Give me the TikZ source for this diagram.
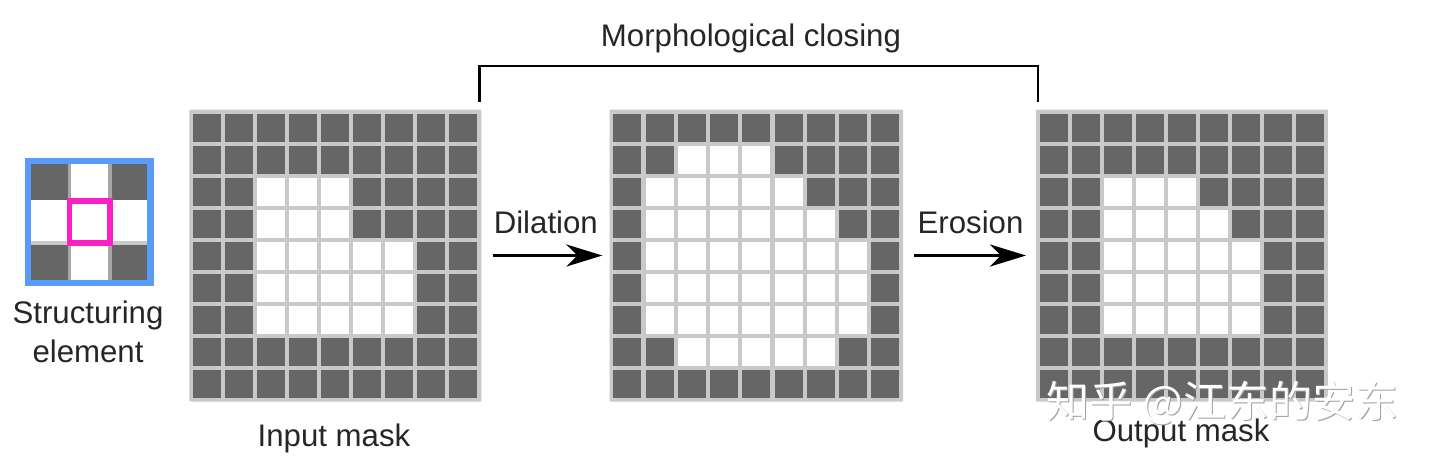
\documentclass[tikz,border=0pt]{standalone}
\usepackage{fontspec}
\setmainfont{Liberation Sans}
\newfontfamily\cjkfont{Noto Sans CJK SC}
\usetikzlibrary{arrows.meta}
\definecolor{gridline}{HTML}{C9C9C9}
\definecolor{darkcell}{HTML}{666666}
\definecolor{selblue}{HTML}{5B9BF8}
\definecolor{selpink}{HTML}{FC1FC4}
\definecolor{inkc}{HTML}{262626}
\tikzset{
  x=1pt,y=-1pt,
  label text/.style={font=\fontsize{31.2}{39}\selectfont,text=inkc,inner sep=0pt,anchor=base},
  grid back/.style={fill=gridline,inner sep=0pt,minimum height=292pt,rounded corners=1pt},
  flow arrow/.style={line width=3.4pt,black,-{Stealth[length=36pt,width=22pt,inset=11pt]},shorten <=11pt},
  bracket line/.style={line width=2.9pt,black},
  mark text/.style={font=\cjkfont\fontsize{43}{43}\selectfont,inner sep=0pt,anchor=center},
}
% #1 name, #2 centre x, #3 width, #4 x of first cell, #5 pitch, #6 runs of white cells row/from/to
\newcommand{\maskgrid}[6]{
  \node[grid back,minimum width=#3pt] (#1) at (#2,255.5) {};
  \foreach \r in {0,...,8}{\foreach \c in {0,...,8}{
    \fill[darkcell] ({#4+\c*#5},{113.5+\r*32.1}) rectangle +(28,28);
  }}
  \foreach \r/\a/\b in {#6}{\foreach \c in {\a,...,\b}{
    \fill[white] ({#4+\c*#5},{113.5+\r*32.1}) rectangle +(28,28);
  }}
}
\begin{document}
\begin{tikzpicture}
\useasboundingbox (0,0) rectangle (1434,464);
\fill[white] (0,0) rectangle (1434,464);

% structuring element
\fill[selblue] (25.3,158.3) rectangle (153.7,286);
\fill[white] (31.3,164) rectangle (147.3,280);
\fill[darkcell] (31.3,164) rectangle (67.5,200);
\fill[darkcell] (112,164) rectangle (147.3,200);
\fill[darkcell] (31.3,245) rectangle (67.5,280);
\fill[darkcell] (112,245) rectangle (147.3,280);
\fill[gray!70] (67.5,164) rectangle (71,198);
\fill[gray!70] (108,164) rectangle (112,198);
\fill[gray!70] (67.5,245) rectangle (71,280);
\fill[gray!70] (108,245) rectangle (112,280);
\fill[gridline] (31.3,241) rectangle (67.5,245);
\fill[gridline] (112,241) rectangle (147.3,245);
\draw[selpink,line width=5.6pt] (69.5,201.1) rectangle (109.9,242.9);
\node[label text,anchor=center,align=center] (selabel) at (88,332) {Structuring\\element};

% masks
\maskgrid{input}{335.3}{292}{193}{32}{2/2/4,3/2/4,4/2/6,5/2/6,6/2/6}
\maskgrid{middle}{756.3}{293.5}{613.3}{32.25}{1/2/4,2/1/5,3/1/6,4/1/7,5/1/7,6/1/7,7/2/6}
\maskgrid{output}{1181.8}{292}{1039.7}{32.04}{2/2/4,3/2/5,4/2/6,5/2/6,6/2/6}

% connectors
\draw[flow arrow,shorten >=7pt] (input.east) -- (middle.west);
\draw[flow arrow,shorten >=9.6pt] (middle.east) -- (output.west);
\coordinate (bl) at (479.3,102);
\coordinate (br) at (1038,102);
\coordinate (bt) at (751,66);
\draw[bracket line] (bl) |- (bt) -| (br);

% labels
\node[label text] (closing) at (751,46.5) {Morphological closing};
\node[label text] (dil) at (545.8,233) {Dilation};
\node[label text] (ero) at (970.5,233) {Erosion};
\node[label text] (inlabel) at (334,446) {Input mask};
\node[label text] (outlabel) at (1181,441.7) {Output mask};

% watermark
\node[mark text,text=gray!75] (markshadow) at (1223.5,404) {知乎 @江东的安东};
\node[mark text,text=white] (mark) at (1222.5,403) {知乎 @江东的安东};
\end{tikzpicture}
\end{document}
